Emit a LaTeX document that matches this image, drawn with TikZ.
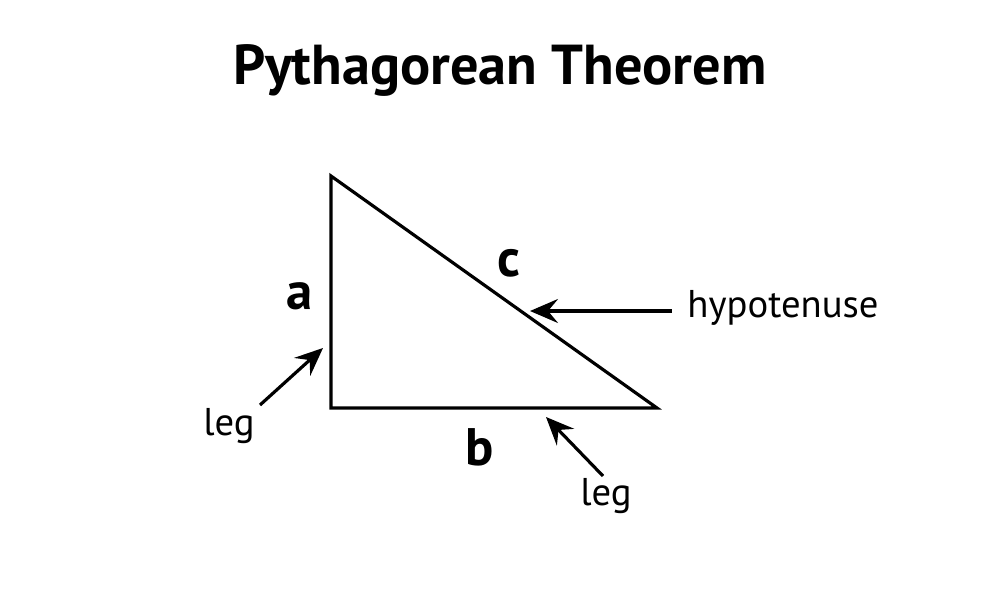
\documentclass[tikz,border=0pt]{standalone}
\usepackage{fontspec}
\setmainfont{PT Sans}
\usepackage{tikz}
\usetikzlibrary{positioning, arrows.meta}

\begin{document}
\begin{tikzpicture}
  [x=0.01cm,y=-0.01cm,
   side/.style={draw,line width=0.9pt,line join=miter},
   pointer/.style={draw,line width=0.9pt,-{Stealth[length=2.8mm,width=2.4mm,inset=1mm]}},
   sidelabel/.style={font=\fontsize{15}{18}\selectfont\bfseries,inner sep=0pt},
   smalllabel/.style={font=\fontsize{11}{13}\selectfont,inner sep=0pt}]
  \useasboundingbox (0,0) rectangle (1000,600);
  \node (title) at (500,70) [font=\fontsize{16}{19}\selectfont\bfseries] {Pythagorean Theorem};
  % triangle corners
  \coordinate (top) at (331,176);
  \coordinate (corner) at (331,408);
  \coordinate (right) at (657,408);
  \draw [side] (top) -- (corner) -- (right) -- cycle;
  \node (a) at (300,296) [sidelabel] {a};
  \node (c) at (509,263) [sidelabel] {c};
  \node (b) at (480,447) [sidelabel] {b};
  \node (hyp) at (783,308) [smalllabel] {hypotenuse};
  \node (legleft) at (229,426) [smalllabel] {leg};
  \node (legright) at (606,496) [smalllabel] {leg};
  \coordinate (hyptip) at (530,311);
  \coordinate (lefttip) at (323,348);
  \coordinate (righttip) at (546,417);
  \draw [pointer] (hyp.west) ++(-15,3) -- (hyptip);
  \draw [pointer] (260,405) -- (lefttip);
  \draw [pointer] (603,476) -- (righttip);
\end{tikzpicture}
\end{document}
